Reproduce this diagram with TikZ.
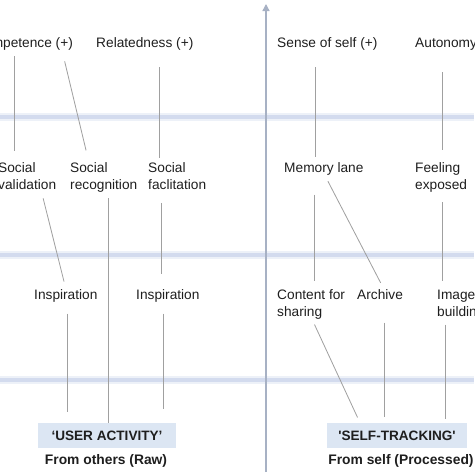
\documentclass[tikz,border=0pt]{standalone}
\usepackage{fontspec}
\setmainfont{Liberation Sans}
\usetikzlibrary{arrows.meta}
\definecolor{cink}{HTML}{1E1E1E}
\definecolor{cline}{HTML}{A0A0A0}
\definecolor{cband}{HTML}{D3DBEE}
\definecolor{cbandsoft}{HTML}{EDF1F8}
\definecolor{caxis}{HTML}{A7B1C4}
\definecolor{cbox}{HTML}{DCE6F3}
\tikzset{
  lbl/.style={anchor=base west,align=left,text=cink,inner xsep=0pt,
    font=\fontsize{11.7}{14.5}\selectfont},
  tagbox/.style={fill=cbox,text=cink,minimum height=0.75cm,inner sep=0pt,
    font=\bfseries\fontsize{11.6}{14}\selectfont},
  caption/.style={text=cink,font=\bfseries\fontsize{11.8}{14}\selectfont},
  link/.style={draw=cline,line width=0.7pt},
  band/.style={line width=3.2pt,draw=cband},
}
\begin{document}
\begin{tikzpicture}[x=0.03cm,y=-0.03cm]
  \useasboundingbox (0,0) rectangle (474,474);
  \clip (0,0) rectangle (474,474);
  \foreach \y in {117,255,380}{
    \draw[line width=6pt,cbandsoft] (0,\y) -- (474,\y);
    \draw[band] (0,\y) -- (474,\y);
  }
  \draw[caxis,line width=1.1pt,-{Triangle[width=6pt,length=6pt]}] (266,472) -- (266,4);

  \node[lbl] (comp) at (-26,47.5) {Competence (+)};
  \node[lbl] (rel) at (96,47.5) {Relatedness (+)};
  \node[lbl] (self) at (277,47.5) {Sense of self (+)};
  \node[lbl] (auto) at (415,47.5) {Autonomy};

  \node[lbl] (val) at (-2,189.5) {Social\\validation};
  \node[lbl] (rec) at (70,189.5) {Social\\recognition};
  \node[lbl] (fac) at (148,189.5) {Social\\faclitation};
  \node[lbl] (mem) at (284,172.5) {Memory lane};
  \node[lbl] (feel) at (415,189.5) {Feeling\\exposed};

  \node[lbl] (insp1) at (34,299.5) {Inspiration};
  \node[lbl] (insp2) at (136,299.5) {Inspiration};
  \node[lbl] (share) at (277,316.5) {Content for\\sharing};
  \node[lbl] (arch) at (357,299.5) {Archive};
  \node[lbl] (img) at (437,316.5) {Image\\building};

  \node[tagbox,minimum width=4.14cm] (user) at (107,435.5) {‘USER ACTIVITY’};
  \node[tagbox,minimum width=4.2cm] (track) at (397,435.5) {\textquotesingle SELF-TRACKING\textquotesingle};
  \node[caption] (usercap) at (106,461) {From others (Raw)};
  \node[caption] (trackcap) at (401,461) {From self (Processed)};

  \draw[link,shorten <=1.7pt,shorten >=6pt] (14,0 |- comp.south) -- (14,0 |- val.north);
  \draw[link,shorten <=6pt,shorten >=7pt] (63,0 |- comp.south) -- (88,0 |- rec.north);
  \draw[link,shorten <=11pt] (159,0 |- rel.south) -- (159,0 |- fac.north);
  \draw[link,shorten <=11pt,shorten >=1pt] (315,0 |- self.south) -- (315,0 |- mem.north);
  \draw[link,shorten <=15pt,shorten >=7pt] (442,0 |- auto.south) -- (442,0 |- feel.north);

  \draw[link,shorten <=4pt,shorten >=3.4pt] (42,0 |- val.south) -- (65,0 |- insp1.north);
  \draw[link,shorten <=1.7pt] (108,0 |- rec.south) -- (108,0 |- user.north);
  \draw[link,shorten <=7.7pt,shorten >=10pt] (161,0 |- fac.south) -- (161,0 |- insp2.north);
  \draw[link,shorten <=13pt,shorten >=3.4pt] (314,0 |- mem.south) -- (314,0 |- share.north);
  \draw[link,shorten <=1.7pt,shorten >=2.5pt] (327,0 |- mem.south) -- (382,0 |- arch.north);
  \draw[link,shorten <=5pt,shorten >=4pt] (442,0 |- feel.south) -- (442,0 |- img.north);

  \draw[link,shorten <=6pt,shorten >=9.4pt] (67,0 |- insp1.south) -- (67,0 |- user.north);
  \draw[link,shorten <=6pt,shorten >=12pt] (163,0 |- insp2.south) -- (163,0 |- user.north);
  \draw[link,shorten <=1pt,shorten >=5pt] (314,0 |- share.south) -- (360,0 |- track.north);
  \draw[link,shorten <=16pt,shorten >=5pt] (384,0 |- arch.south) -- (384,0 |- track.north);
  \draw[link,shorten <=1pt,shorten >=3.4pt] (445,0 |- img.south) -- (445,0 |- track.north);
\end{tikzpicture}
\end{document}
